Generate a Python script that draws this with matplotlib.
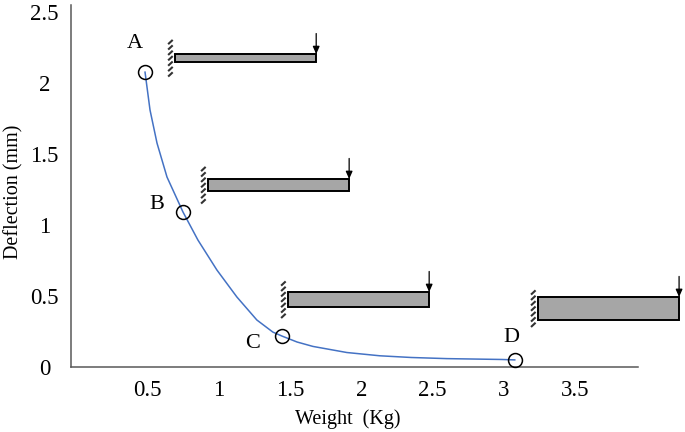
"""
Deflection vs weight for a cantilever, with beam sketches
"""
import matplotlib
matplotlib.use('Agg')
import matplotlib.pyplot as plt
from matplotlib.patches import Rectangle

# curve
curve_x = [0.484, 0.519, 0.568, 0.638, 0.75, 0.855, 0.988, 1.128, 1.268, 1.38,
           1.444, 1.55, 1.661, 1.899, 2.13, 2.35, 2.6, 2.985, 3.076]
curve_y = [2.077, 1.81, 1.577, 1.338, 1.092, 0.894, 0.683, 0.493, 0.331, 0.246,
           0.218, 0.176, 0.145, 0.102, 0.079, 0.067, 0.059, 0.053, 0.05]

# marked points
pt_names = ['A', 'B', 'C', 'D']
pt_x = [0.484, 0.75, 1.444, 3.076]
pt_y = [2.077, 1.092, 0.218, 0.05]

x_ticks = [0.5, 1, 1.5, 2, 2.5, 3, 3.5]
y_ticks = [0, 0.5, 1, 1.5, 2, 2.5]

# beam sketches: left end, top, thickness
beam_x0 = [0.694, 0.925, 1.486, 3.238]
beam_top = [2.204, 1.324, 0.528, 0.493]
beam_thick = [0.056, 0.085, 0.106, 0.162]
beam_len = 0.99

plt.rcParams['font.family'] = ['Liberation Serif', 'DejaVu Serif']

fig = plt.figure(figsize=(6.85, 4.32), dpi=100)
ax = fig.add_axes([71 / 685, 1 - 367 / 432, 567 / 685, 362 / 432])

ax.plot(curve_x, curve_y, color='#4472C4', linewidth=1.1, zorder=2)
ax.plot(pt_x, pt_y, 'o', markersize=10, markerfacecolor='none',
        markeredgecolor='black', markeredgewidth=1.1, zorder=3, clip_on=False)

# letter labels next to the points
label_offsets = [(-0.071, 0.20), (-0.182, 0.056), (-0.204, -0.049), (-0.021, 0.161)]
for name, x, y, (dx, dy) in zip(pt_names, pt_x, pt_y, label_offsets):
    ax.text(x + dx, y + dy, name, fontsize=16, ha='center', va='center')

# cantilever sketches
for x0, top, th in zip(beam_x0, beam_top, beam_thick):
    ax.add_patch(Rectangle((x0, top - th), beam_len, th, facecolor='#a6a6a6',
                           edgecolor='black', linewidth=1.4, clip_on=False, zorder=4))
    # hatched wall: short diagonal dashes
    mid = top - th / 2
    y0 = mid - 0.13
    for i in range(7):
        yb = y0 + i * 0.038
        ax.plot([x0 - 0.048, x0 - 0.016], [yb, yb + 0.03], color='#333333',
                linewidth=1.5, solid_capstyle='butt', clip_on=False, zorder=4)
    ax.annotate('', xy=(x0 + beam_len, top), xytext=(x0 + beam_len, top + 0.145),
                arrowprops=dict(arrowstyle='-|>,head_width=0.2,head_length=0.45',
                                color='black', lw=0.9, shrinkA=0, shrinkB=0),
                annotation_clip=False, zorder=5)

ax.set_xlim(-0.035, 3.94)
ax.set_ylim(0, 2.55)
ax.set_xticks(x_ticks)
ax.set_xticklabels([f'{t:g}' for t in x_ticks])
ax.set_yticks(y_ticks)
ax.set_yticklabels([f'{t:g}' for t in y_ticks], ha='center')
ax.tick_params(axis='x', length=0, pad=9, labelsize=16.5)
ax.tick_params(axis='y', length=0, pad=19, labelsize=16.5)

for side in ['top', 'right']:
    ax.spines[side].set_visible(False)
for side in ['left', 'bottom']:
    ax.spines[side].set_color('#595959')
    ax.spines[side].set_linewidth(1.1)

fig.text(348 / 685, 1 - 419 / 432, 'Weight  (Kg)', fontsize=14.5, ha='center', va='center')
fig.text(14 / 685, 1 - 192 / 432, 'Deflection (mm)', fontsize=14.5, ha='center',
         va='center', rotation=90)

fig.savefig('out.png', dpi=100)
